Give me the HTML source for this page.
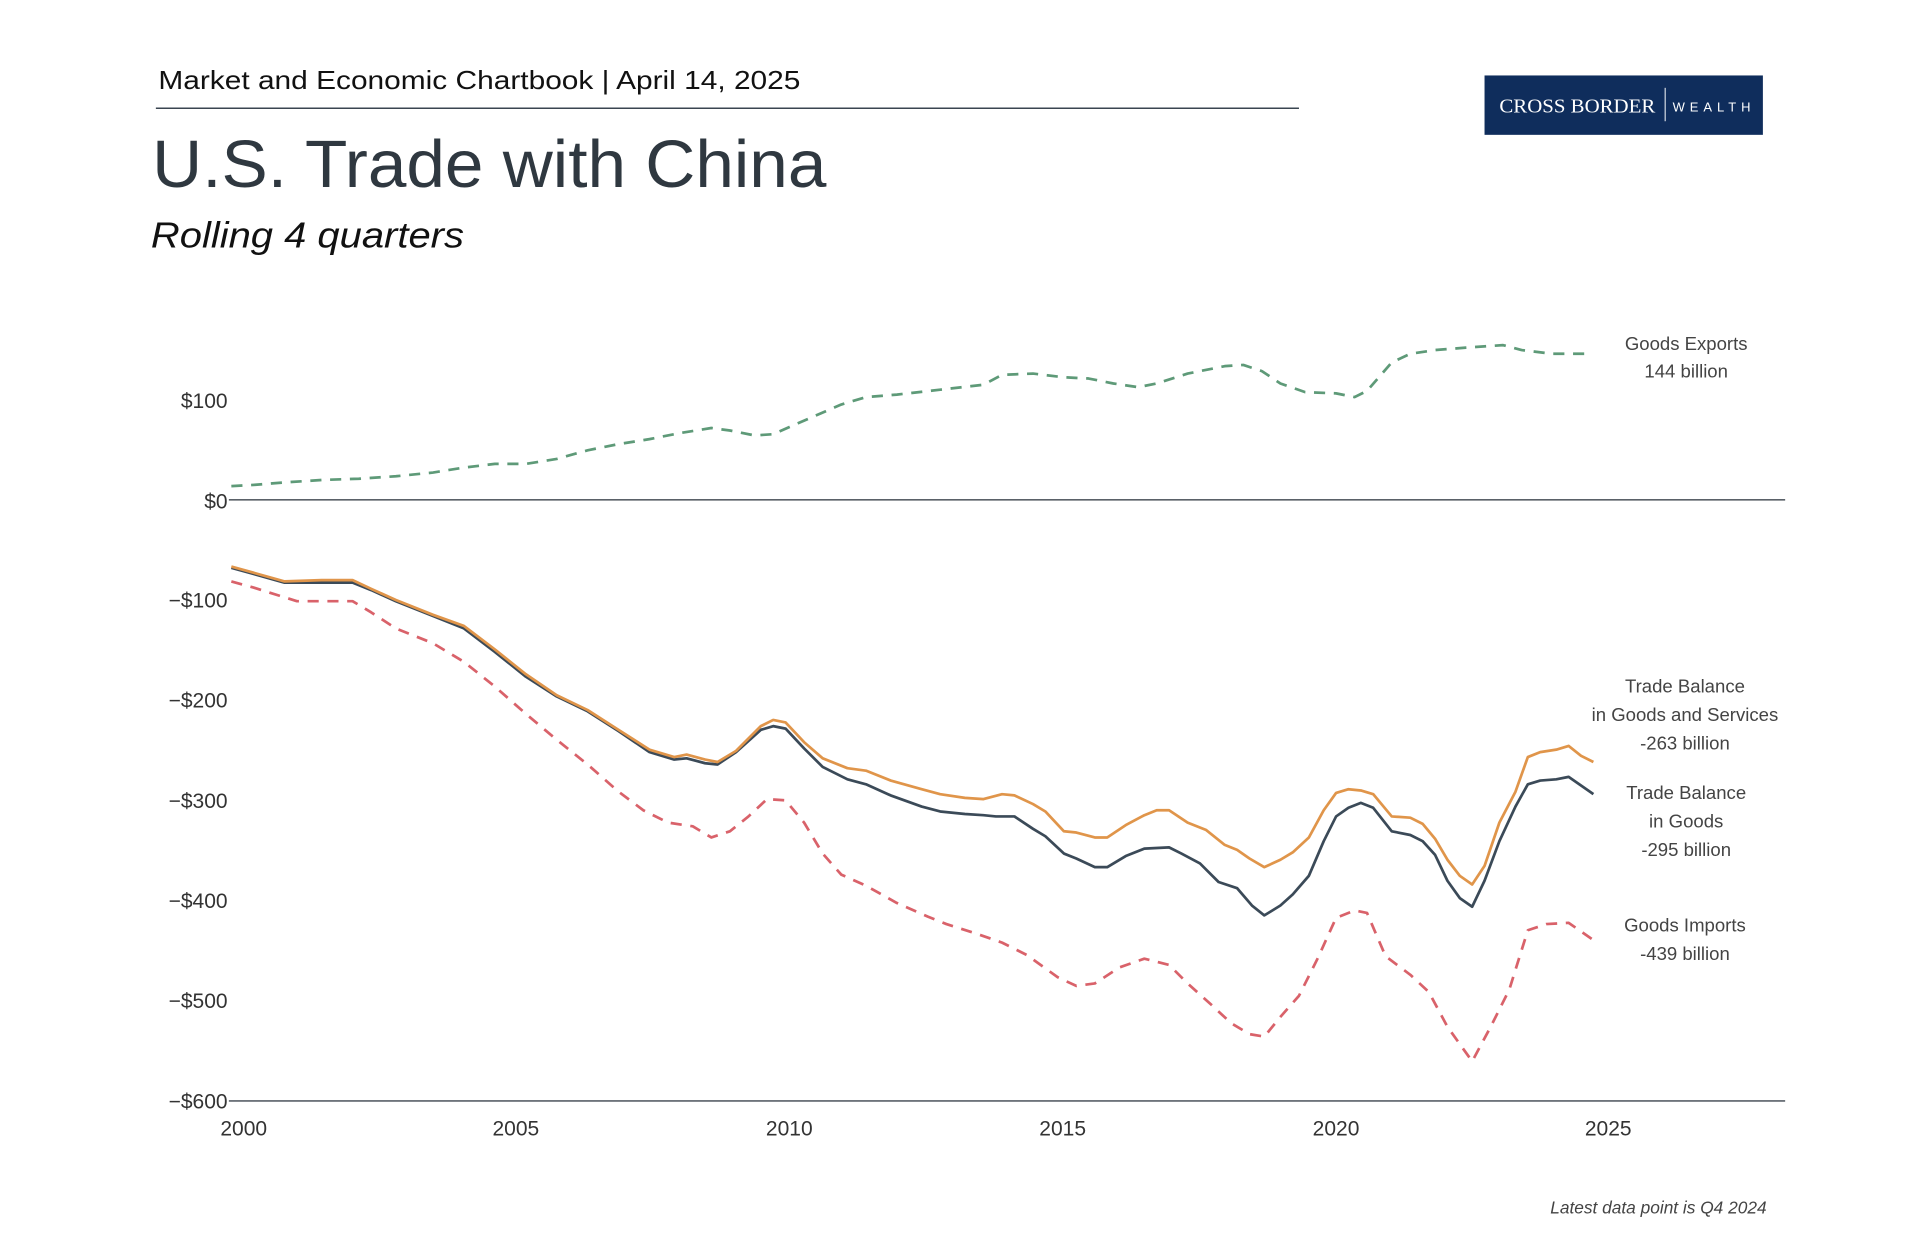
<!DOCTYPE html>
<html><head><meta charset="utf-8"><style>html,body{margin:0;padding:0;background:#fff}svg{display:block}</style></head>
<body>
<svg width="1920" height="1240" viewBox="0 0 1552 1002.4" preserveAspectRatio="none" xmlns="http://www.w3.org/2000/svg" font-family="Liberation Sans, sans-serif">
<text x="128" y="72" font-size="21" fill="#111" textLength="519" lengthAdjust="spacingAndGlyphs">Market and Economic Chartbook | April 14, 2025</text>
<line x1="126" y1="87.5" x2="1050" y2="87.5" stroke="#3a4550" stroke-width="1.2"/>
<text x="123" y="151" font-size="54" fill="#2f3840" textLength="545" lengthAdjust="spacingAndGlyphs">U.S. Trade with China</text>
<text x="122" y="200" font-size="29" font-style="italic" fill="#111" textLength="253" lengthAdjust="spacingAndGlyphs">Rolling 4 quarters</text>
<rect x="1200" y="61" width="225" height="48" fill="#0f2d5c"/>
<text x="1212" y="91" font-family="Liberation Serif, serif" font-size="16.5" fill="#fff" textLength="126" lengthAdjust="spacingAndGlyphs">CROSS BORDER</text>
<line x1="1346" y1="71" x2="1346" y2="98" stroke="#fff" stroke-width="0.8"/>
<text x="1352" y="90" font-size="10.5" fill="#fff" textLength="63" lengthAdjust="spacing">WEALTH</text>
<g font-size="17" fill="#333" text-anchor="end">
<text x="184" y="330">$100</text><text x="184" y="411">$0</text>
<text x="184" y="491">−$100</text><text x="184" y="572">−$200</text>
<text x="184" y="653">−$300</text><text x="184" y="734">−$400</text>
<text x="184" y="815">−$500</text><text x="184" y="896">−$600</text>
</g>
<line x1="185" y1="404" x2="1443" y2="404" stroke="#5a6168" stroke-width="1.3"/>
<line x1="185" y1="890" x2="1443" y2="890" stroke="#5a6168" stroke-width="1.3"/>
<g font-size="17" fill="#333" text-anchor="middle">
<text x="197" y="918">2000</text><text x="417" y="918">2005</text><text x="638" y="918">2010</text>
<text x="859" y="918">2015</text><text x="1080" y="918">2020</text><text x="1300" y="918">2025</text>
</g>
<g fill="none" stroke-width="2.2" stroke-linejoin="round">
<polyline stroke="#5e9a78" stroke-dasharray="9,7" points="187,393 205,392 230,390 260,388 290,387 320,385 350,382 375,378 400,375 425,375 450,371 475,364 500,359 525,355 550,350 575,346 590,348 610,352 625,351 650,340 680,327 700,321 725,319 760,315 795,311 810,303 835,302 860,305 880,306 900,310 920,313 935,310 960,302 990,296 1005,295 1020,300 1035,310 1055,317 1080,318 1095,321 1105,316 1125,293 1140,286 1160,283 1185,281 1215,279 1230,283 1255,286 1285,286"/>
<polyline stroke="#d9626a" stroke-dasharray="9,7" points="187,470 205,475 240,486 285,486 300,495 320,508 350,520 375,535 400,555 425,577 450,598 475,618 500,640 520,655 540,665 560,668 575,677 590,672 605,660 620,646 635,647 650,665 665,690 680,707 700,716 725,730 750,741 765,747 790,755 810,762 830,772 855,790 870,797 885,795 905,782 925,775 945,780 960,795 980,813 995,827 1010,836 1022,838 1035,822 1050,805 1065,775 1080,742 1095,736 1105,738 1120,773 1140,788 1155,802 1170,830 1190,858 1205,830 1220,800 1235,752 1250,747 1268,746 1288,760"/>
<polyline stroke="#3b4a58" points="187,459 205,464 230,471 260,471 285,471 300,477 320,486 350,498 375,508 400,527 425,547 450,563 475,575 500,591 525,608 545,614 555,613 570,617 580,618 595,608 615,590 625,587 635,589 650,605 665,620 685,630 700,634 720,643 745,652 760,656 780,658 795,659 805,660 820,660 835,670 845,676 860,690 870,694 885,701 895,701 910,692 925,686 945,685 955,690 970,698 985,713 1000,718 1012,732 1022,740 1035,732 1045,723 1058,708 1070,680 1080,660 1090,653 1100,649 1110,653 1125,672 1140,675 1150,680 1160,691 1170,712 1180,726 1190,733 1200,712 1212,680 1225,652 1235,634 1245,631 1258,630 1268,628 1278,635 1288,642"/>
<polyline stroke="#e0954a" points="187,458 205,463 230,470 260,469 285,469 300,476 320,485 350,497 375,506 400,525 425,545 450,562 475,574 500,590 525,606 545,612 555,610 570,614 580,616 595,607 615,587 625,582 635,584 650,600 665,613 685,621 700,623 720,631 745,638 760,642 780,645 795,646 810,642 820,643 835,650 845,656 860,672 870,673 885,677 895,677 910,667 925,659 935,655 945,655 960,665 975,671 990,683 1000,687 1010,694 1022,701 1035,695 1045,689 1058,677 1070,655 1080,641 1090,638 1100,639 1110,642 1125,660 1140,661 1150,666 1160,678 1170,695 1180,708 1190,715 1200,700 1212,665 1225,640 1235,612 1245,608 1258,606 1268,603 1278,611 1288,616"/>
</g>
<g font-size="15" fill="#444" text-anchor="middle">
<text x="1363" y="283">Goods Exports</text><text x="1363" y="305">144 billion</text>
<text x="1362" y="560">Trade Balance</text><text x="1362" y="583">in Goods and Services</text><text x="1362" y="606">-263 billion</text>
<text x="1363" y="646">Trade Balance</text><text x="1363" y="669">in Goods</text><text x="1363" y="692">-295 billion</text>
<text x="1362" y="753">Goods Imports</text><text x="1362" y="776">-439 billion</text>
</g>
<text x="1428" y="981" font-size="14" font-style="italic" fill="#444" text-anchor="end">Latest data point is Q4 2024</text>
</svg>
</body></html>
